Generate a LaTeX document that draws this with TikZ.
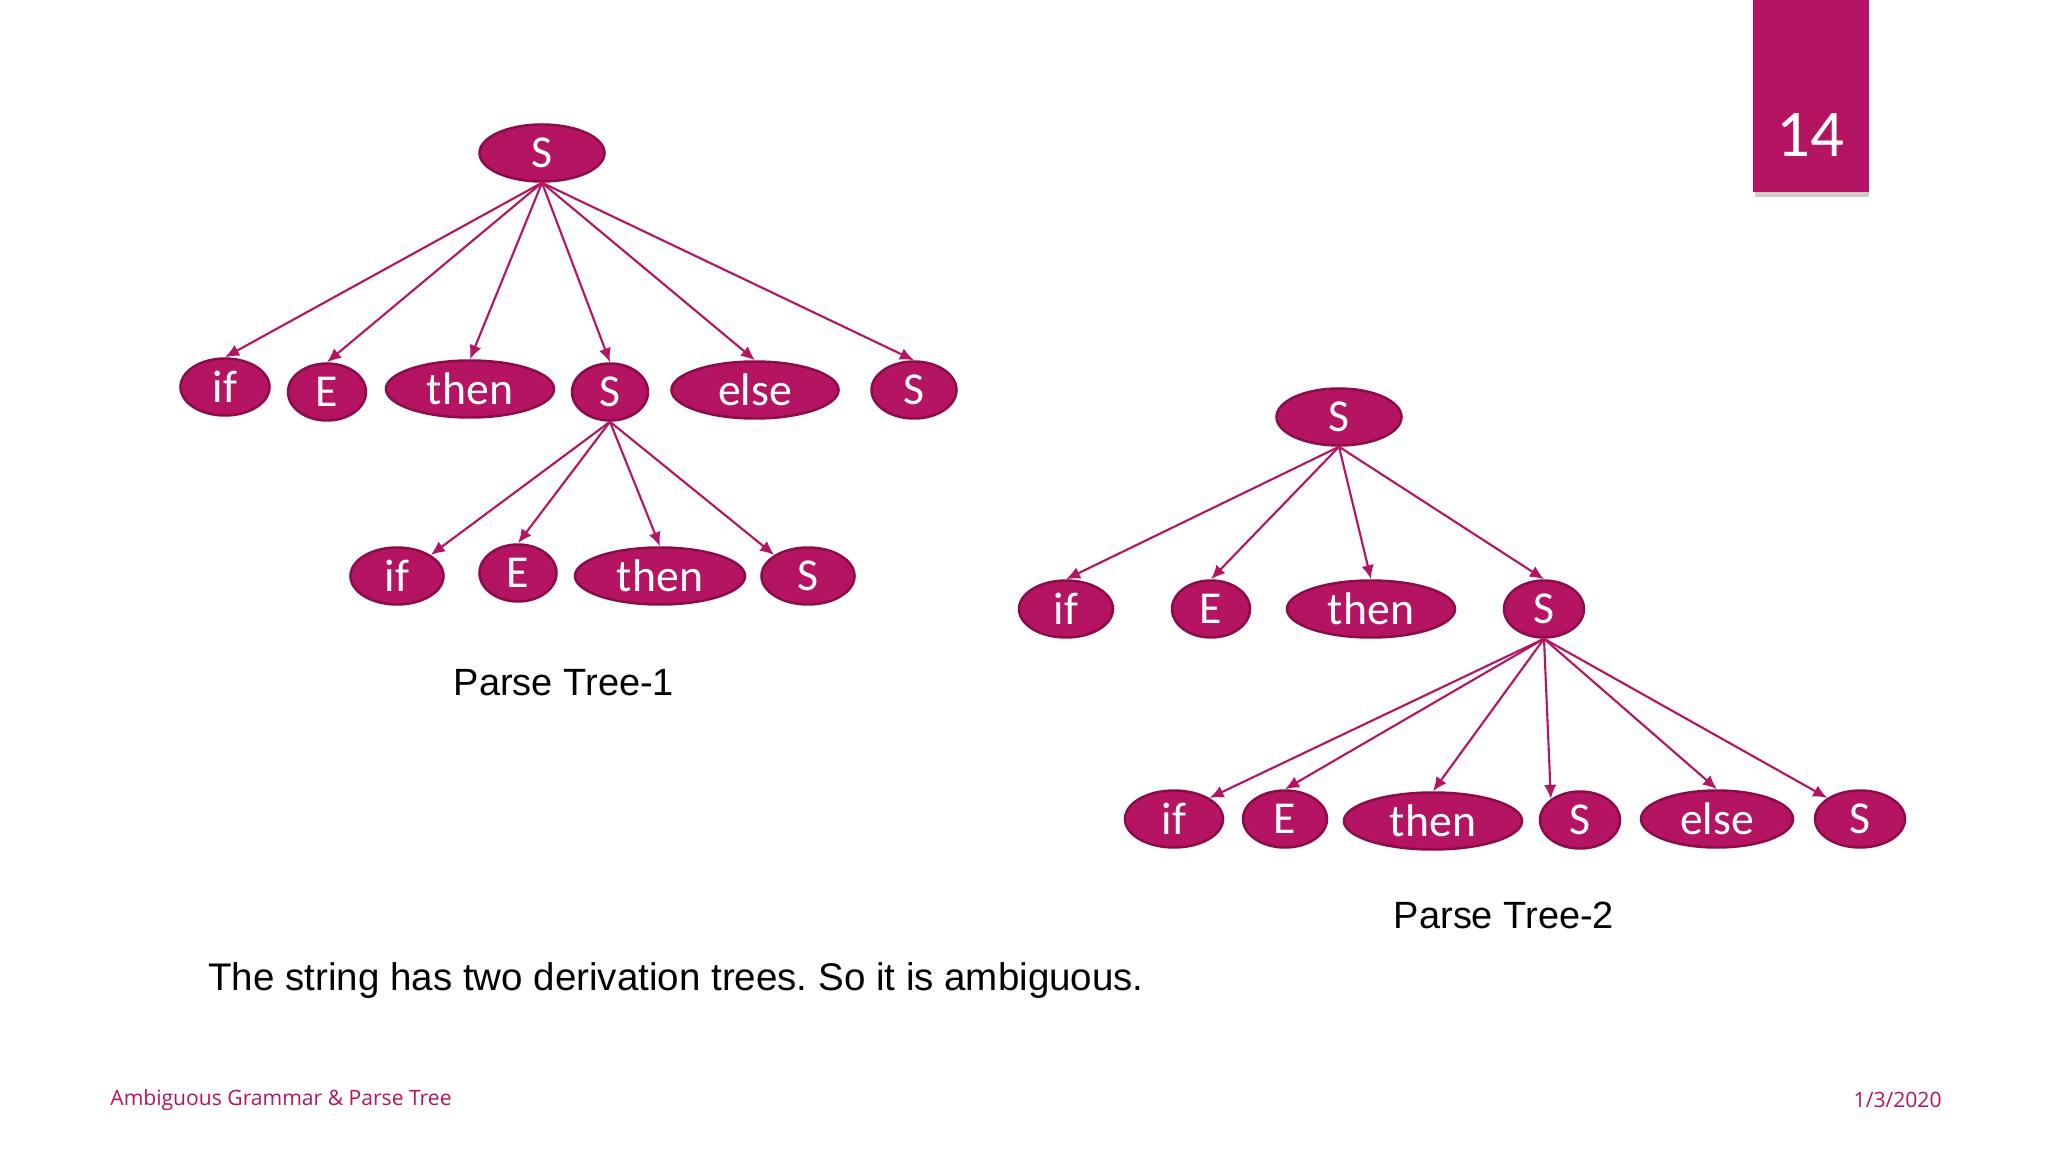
\documentclass[tikz,border=0pt]{standalone}
\usepackage{fontspec}
\setmainfont{Liberation Sans}
\newfontfamily\segoe{Open Sans}
\newfontfamily\lbl{Carlito}
\usetikzlibrary{shapes.geometric,arrows.meta}
\definecolor{pmag}{RGB}{180,20,98}
\definecolor{pdark}{RGB}{140,12,74}
\frenchspacing
\begin{document}
\begin{tikzpicture}[x=0.01cm, y=-0.01cm,
  nd/.style={ellipse, draw=pdark, line width=0.7pt, fill=pmag, text=white, inner sep=0pt, minimum height=0.57cm, font=\lbl\fontsize{13}{13}\selectfont},
  ed/.style={draw=pmag, line width=0.6pt, -{Latex[length=4pt,width=3.5pt]}},
  ttl/.style={font=\fontsize{10.8}{12}\selectfont},
  foot/.style={text=pmag, font=\segoe\fontsize{6.0}{7}\selectfont}]
\useasboundingbox (0,0) rectangle (2048,1152);
\fill[white] (0,0) rectangle (2048,1152);
% slide number tab
\fill[black!20] (1755,190) rectangle (1869,197);
\fill[pmag] (1753,0) rectangle (1869,192);
\node[text=white, font=\lbl\fontsize{19}{19}\selectfont] (num) at (1810,135) {14};
% parse tree 1
\node[nd, minimum width=1.25cm] (r1) at (542,153) {S};
\node[nd, minimum width=0.89cm] (a1) at (225,387) {if};
\node[nd, minimum width=0.78cm] (a2) at (327,392) {E};
\node[nd, minimum width=1.68cm] (a3) at (470,389) {then};
\node[nd, minimum width=0.76cm] (a4) at (610,392) {S};
\node[nd, minimum width=1.67cm] (a5) at (755,390) {else};
\node[nd, minimum width=0.85cm] (a6) at (914,390) {S};
\node[nd, minimum width=0.93cm] (b1) at (397,576) {if};
\node[nd, minimum width=0.77cm] (b2) at (518,573) {E};
\node[nd, minimum width=1.70cm] (b3) at (660,576) {then};
\node[nd, minimum width=0.93cm] (b4) at (808,576) {S};
\draw[ed] (r1.south)--(a1.north); \draw[ed] (r1.south)--(a2.north);
\draw[ed] (r1.south)--(a3.north); \draw[ed] (r1.south)--(a4.north);
\draw[ed] (r1.south)--(a5.north); \draw[ed] (r1.south)--(a6.north);
\draw[ed] (a4.south)--(b1.north east); \draw[ed] (a4.south)--(b2.north);
\draw[ed] (a4.south)--(b3.north); \draw[ed] (a4.south)--(b4.north west);
\node[ttl] (t1) at (564,683) {Parse Tree-1};
% parse tree 2
\node[nd, minimum width=1.25cm] (r2) at (1339,417) {S};
\node[nd, minimum width=0.94cm] (c1) at (1066,609) {if};
\node[nd, minimum width=0.78cm] (c2) at (1211,609) {E};
\node[nd, minimum width=1.68cm] (c3) at (1371,609) {then};
\node[nd, minimum width=0.80cm] (c4) at (1544,609) {S};
\node[nd, minimum width=0.98cm] (d1) at (1174,819) {if};
\node[nd, minimum width=0.84cm] (d2) at (1285,819) {E};
\node[nd, minimum width=1.78cm] (d3) at (1433,821) {then};
\node[nd, minimum width=0.80cm] (d4) at (1580,820) {S};
\node[nd, minimum width=1.52cm] (d5) at (1717,819) {else};
\node[nd, minimum width=0.90cm] (d6) at (1860,819) {S};
\draw[ed] (r2.south)--(c1.north); \draw[ed] (r2.south)--(c2.north);
\draw[ed] (r2.south)--(c3.north); \draw[ed] (r2.south)--(c4.north);
\draw[ed] (c4.south)--(d1.north east); \draw[ed] (c4.south)--(d2.north);
\draw[ed] (c4.south)--(d3.north); \draw[ed] (c4.south)--(d4.north west);
\draw[ed] (c4.south)--(d5.north); \draw[ed] (c4.south)--(d6.north west);
\node[ttl] (t2) at (1504,915) {Parse Tree-2};
\node[ttl, anchor=west, font=\fontsize{10.95}{12}\selectfont] (msg) at (196,981) {The string has two derivation trees. So it is ambiguous.};
% footer
\node[foot, anchor=west] (ftl) at (98,1100) {Ambiguous Grammar \& Parse Tree};
\node[foot, anchor=east] (ftr) at (1954,1100) {1/3/2020};
\end{tikzpicture}
\end{document}
